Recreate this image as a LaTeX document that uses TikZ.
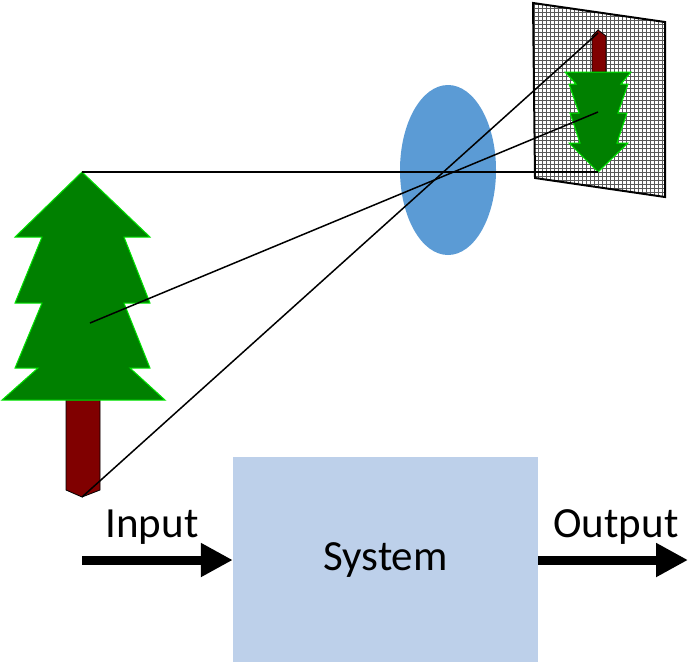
\documentclass[tikz,border=0pt]{standalone}
\usepackage{fontspec}
\setmainfont{Carlito}
\usetikzlibrary{arrows.meta,shapes.geometric}
\begin{document}
\begin{tikzpicture}[x=1pt,y=-1pt,
  leaf/.style={fill={rgb,255:red,0;green,128;blue,0},draw={rgb,255:red,0;green,230;blue,0},line width=1pt,line join=miter},
  trunk/.style={fill={rgb,255:red,128;green,0;blue,0},draw=black,line width=0.8pt},
  ray/.style={draw=black,line width=1.5pt},
  gridline/.style={draw=gray!70!black,line width=0.35pt},
  bigarrow/.style={line width=9pt,-{Triangle[length=32pt,width=32pt]}},
  lbl/.style={font=\fontsize{43}{48}\selectfont}]
\useasboundingbox (0,0) rectangle (700,670);
% screen
\begin{scope}
\clip (533,3) -- (665,22) -- (665,197) -- (535,178) -- cycle;
\fill[white] (530,0) rectangle (670,200);
\foreach \k in {0,4,...,200} {\draw[gridline] (530,\k) -- (670,\k);}
\foreach \k in {530,534,...,670} {\draw[gridline] (\k,0) -- (\k,200);}
\end{scope}
\draw[line width=2pt] (533,3) -- (665,22) -- (665,197) -- (535,178) -- cycle;
% small tree
\draw[trunk] (592,72) -- (592,36) -- (598,30) -- (606,36) -- (606,72) -- cycle;
\draw[leaf] (565,72) -- (631,72) -- (621,84) -- (628,84) -- (618,113) -- (627,113) -- (617,143) -- (628,143) -- (598,172) -- (569,143) -- (580,143) -- (570,113) -- (579,113) -- (569,84) -- (576,84) -- cycle;
% big tree
\draw[trunk] (66,400) -- (66,490) -- (82,497) -- (100,490) -- (100,400) -- cycle;
\draw[leaf] (82,172) -- (150,237) -- (124,237) -- (150,303) -- (124,303) -- (150,368) -- (130,368) -- (165,400) -- (2,400) -- (38,368) -- (15,368) -- (42,303) -- (15,303) -- (42,237) -- (15,237) -- cycle;
% lens
\node[ellipse,fill={rgb,255:red,91;green,155;blue,213},minimum width=96pt,minimum height=170pt,inner sep=0] (lens) at (448,170) {};
% rays
\coordinate (t1) at (82,172); \coordinate (i1) at (598,172);
\coordinate (t2) at (90,323); \coordinate (i2) at (598,112);
\coordinate (t3) at (82,497); \coordinate (i3) at (598,33);
\draw[ray] (t1) -- (i1);
\draw[ray] (t2) -- (i2);
\draw[ray] (t3) -- (i3);
% system
\node[fill={rgb,255:red,189;green,208;blue,234},minimum width=305pt,minimum height=205pt,inner sep=0,lbl] (sys) at (385.5,559.5) {System};
\coordinate (in) at (82,560); \coordinate (out) at (688,560);
\draw[bigarrow] (in) -- (sys.west |- in);
\draw[bigarrow] (sys.east |- out) -- (out);
\node[lbl] (inl) at (152,527) {Input};
\node[lbl] (outl) at (616,527) {Output};
\end{tikzpicture}
\end{document}
